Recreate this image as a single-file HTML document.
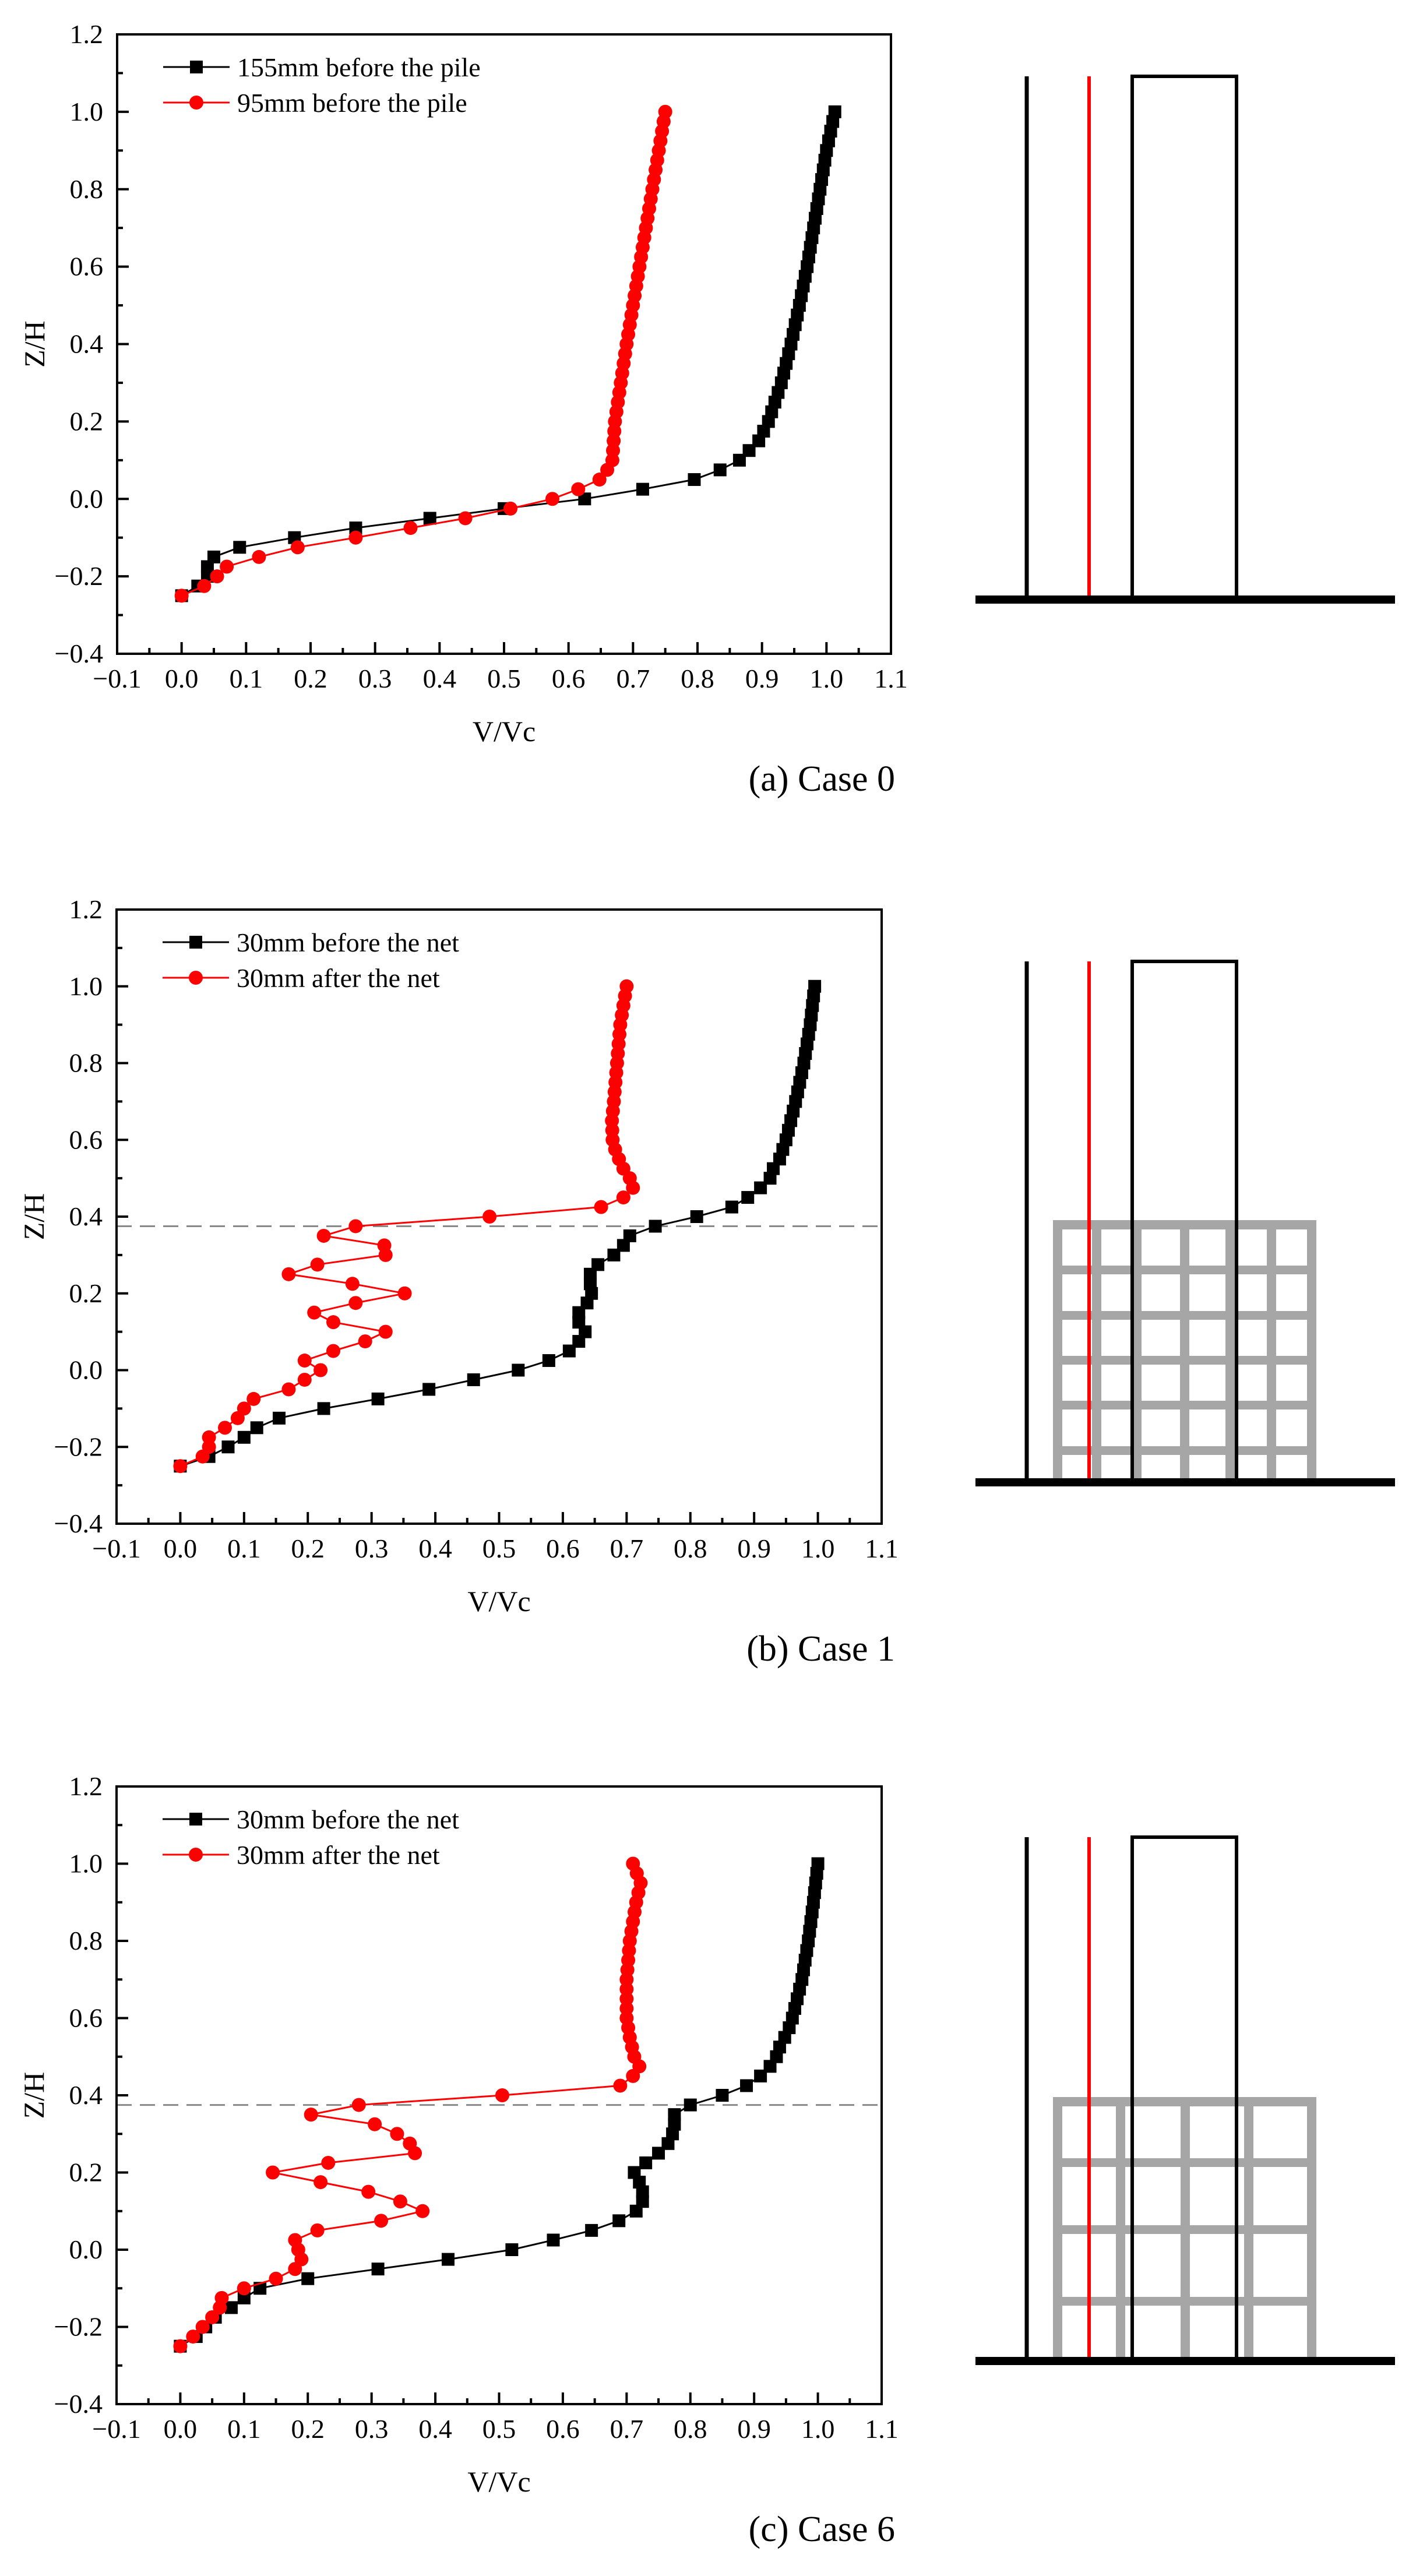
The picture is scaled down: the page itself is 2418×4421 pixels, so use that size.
<!DOCTYPE html>
<html><head><meta charset="utf-8">
<style>
html,body{margin:0;padding:0;background:#fff;}
svg{display:block;}
text{font-family:"Liberation Serif",serif;fill:#000;}
</style></head>
<body>
<svg id="s" xmlns="http://www.w3.org/2000/svg" width="2418" height="4421" viewBox="0 0 2418 4421">
<rect width="2418" height="4421" fill="#fff"/>
</svg>
<script>
const NS="http://www.w3.org/2000/svg";
const S=document.getElementById('s');
function el(t,a,p){const e=document.createElementNS(NS,t);for(const k in a)e.setAttribute(k,a[k]);(p||S).appendChild(e);return e;}
function tx(x,y,s,a){const e=el('text',Object.assign({x:x,y:y},a||{}));e.textContent=s;return e;}

function dens(a){const o=[];for(let i=0;i<a.length;i++){if(i>0){const p=a[i-1],q=a[i];const dz=q[1]-p[1];const n=Math.round(dz/0.025);if(n>1){for(let k=1;k<n;k++){const t=k/n;o.push([p[0]+(q[0]-p[0])*t,p[1]+dz*t]);}}}o.push(a[i]);}return o;}

function panel(P){
  const X=v=>P.l+(v+0.1)/1.2*(P.r-P.l);
  const Y=z=>P.t+(1.2-z)/1.6*(P.b-P.t);
  // dashed
  if(P.dash) el('line',{x1:P.l,x2:P.r,y1:Y(0.375),y2:Y(0.375),stroke:'#888','stroke-width':3,'stroke-dasharray':'26,14'});
  // ticks
  for(let i=0;i<=24;i++){const v=-0.1+i*0.05;const x=X(v);const L=(i%2==0)?20:10;
    el('line',{x1:x,x2:x,y1:P.b,y2:P.b-L,stroke:'#000','stroke-width':4});
    if(i%2==0){const lab=(Math.abs(v)<1e-9?'0.0':(v<0?'\u22120.1':v.toFixed(1)));tx(x,P.b+58,lab,{'font-size':46,'text-anchor':'middle'});}}
  for(let i=0;i<=16;i++){const z=-0.4+i*0.1;const y=Y(z);const L=(i%2==0)?20:10;
    el('line',{x1:P.l,x2:P.l+L,y1:y,y2:y,stroke:'#000','stroke-width':4});
    if(i%2==0){const lab=(Math.abs(z)<1e-9?'0.0':(z<0?'\u2212'+Math.abs(z).toFixed(1):z.toFixed(1)));tx(P.l-24,y+15,lab,{'font-size':46,'text-anchor':'end'});}}
  el('rect',{x:P.l,y:P.t,width:P.r-P.l,height:P.b-P.t,fill:'none',stroke:'#000','stroke-width':4});
  // axis titles
  tx(X(0.5),P.b+150,'V/Vc',{'font-size':50,'text-anchor':'middle'});
  const zt=tx(0,0,'Z/H',{'font-size':50,'text-anchor':'middle',transform:'translate('+(P.l-125)+','+Y(0.4)+') rotate(-90)'});
  // series
  function ser(d,col,m){const pts=dens(d);
    el('polyline',{points:pts.map(p=>X(p[0]).toFixed(1)+','+Y(p[1]).toFixed(1)).join(' '),fill:'none',stroke:col,'stroke-width':3});
    for(const p of pts){if(m=='s')el('rect',{x:X(p[0])-11,y:Y(p[1])-11,width:22,height:22,fill:col});else el('circle',{cx:X(p[0]),cy:Y(p[1]),r:12,fill:col});}}
  ser(P.k,'#000','s');ser(P.rd,'#f00','c');
  // legend
  const ly1=P.t+56,ly2=P.t+117;
  el('line',{x1:P.l+79,x2:P.l+193,y1:ly1,y2:ly1,stroke:'#000','stroke-width':3});
  el('rect',{x:P.l+125,y:ly1-11,width:22,height:22,fill:'#000'});
  el('line',{x1:P.l+79,x2:P.l+193,y1:ly2,y2:ly2,stroke:'#f00','stroke-width':3});
  el('circle',{cx:P.l+136,cy:ly2,r:12,fill:'#f00'});
  tx(P.l+206,ly1+16,P.n1,{'font-size':46});
  tx(P.l+206,ly2+16,P.n2,{'font-size':46});
  tx(1536,P.b+235,P.cap,{'font-size':62,'text-anchor':'end'});
}

const A={l:201,r:1529,t:59,b:1122,dash:false,n1:'155mm before the pile',n2:'95mm before the pile',cap:'(a) Case 0',
k:[[0,-0.25],[0.025,-0.225],[0.04,-0.2],[0.04,-0.175],[0.05,-0.15],[0.09,-0.125],[0.175,-0.1],[0.27,-0.075],[0.385,-0.05],[0.5,-0.025],[0.625,0],[0.715,0.025],[0.795,0.05],[0.835,0.075],[0.865,0.1],[0.88,0.125],[0.895,0.15],[0.91,0.2],[0.93,0.3],[0.945,0.4],[0.958,0.5],[0.97,0.6],[0.98,0.7],[0.99,0.8],[1.0,0.9],[1.013,1.0]],
rd:[[0,-0.25],[0.035,-0.225],[0.055,-0.2],[0.07,-0.175],[0.12,-0.15],[0.18,-0.125],[0.27,-0.1],[0.355,-0.075],[0.44,-0.05],[0.51,-0.025],[0.575,0],[0.615,0.025],[0.648,0.05],[0.66,0.075],[0.668,0.1],[0.672,0.2],[0.69,0.4],[0.71,0.6],[0.73,0.8],[0.75,1.0]]};
const B={l:200,r:1513,t:1561,b:2615,dash:true,n1:'30mm before the net',n2:'30mm after the net',cap:'(b) Case 1',
k:[[0,-0.25],[0.045,-0.225],[0.075,-0.2],[0.1,-0.175],[0.12,-0.15],[0.155,-0.125],[0.225,-0.1],[0.31,-0.075],[0.39,-0.05],[0.46,-0.025],[0.53,0],[0.578,0.025],[0.61,0.05],[0.625,0.075],[0.635,0.1],[0.625,0.125],[0.625,0.15],[0.638,0.175],[0.645,0.2],[0.643,0.225],[0.643,0.25],[0.655,0.275],[0.68,0.3],[0.695,0.325],[0.705,0.35],[0.745,0.375],[0.81,0.4],[0.865,0.425],[0.89,0.45],[0.91,0.475],[0.925,0.5],[0.93,0.525],[0.94,0.55],[0.945,0.575],[0.95,0.6],[0.965,0.7],[0.978,0.8],[0.988,0.9],[0.995,1.0]],
rd:[[0,-0.25],[0.035,-0.225],[0.045,-0.2],[0.045,-0.175],[0.07,-0.15],[0.09,-0.125],[0.1,-0.1],[0.115,-0.075],[0.17,-0.05],[0.195,-0.025],[0.22,0],[0.195,0.025],[0.24,0.05],[0.29,0.075],[0.322,0.1],[0.24,0.125],[0.21,0.15],[0.275,0.175],[0.352,0.2],[0.27,0.225],[0.17,0.25],[0.215,0.275],[0.322,0.3],[0.32,0.325],[0.225,0.35],[0.275,0.375],[0.485,0.4],[0.66,0.425],[0.695,0.45],[0.71,0.475],[0.705,0.5],[0.695,0.525],[0.688,0.55],[0.682,0.575],[0.678,0.6],[0.677,0.65],[0.68,0.7],[0.685,0.8],[0.69,0.9],[0.7,1.0]]};
const C={l:200,r:1513,t:3066,b:4126,dash:true,n1:'30mm before the net',n2:'30mm after the net',cap:'(c) Case 6',
k:[[0,-0.25],[0.025,-0.225],[0.04,-0.2],[0.055,-0.175],[0.08,-0.15],[0.1,-0.125],[0.125,-0.1],[0.2,-0.075],[0.31,-0.05],[0.42,-0.025],[0.52,0],[0.585,0.025],[0.645,0.05],[0.688,0.075],[0.715,0.1],[0.725,0.125],[0.725,0.15],[0.72,0.175],[0.712,0.2],[0.73,0.225],[0.75,0.25],[0.765,0.275],[0.772,0.3],[0.775,0.325],[0.775,0.35],[0.8,0.375],[0.85,0.4],[0.888,0.425],[0.91,0.45],[0.925,0.475],[0.935,0.5],[0.94,0.525],[0.948,0.55],[0.955,0.575],[0.96,0.6],[0.975,0.7],[0.985,0.8],[0.993,0.9],[1.0,1.0]],
rd:[[0,-0.25],[0.02,-0.225],[0.035,-0.2],[0.05,-0.175],[0.062,-0.15],[0.065,-0.125],[0.1,-0.1],[0.15,-0.075],[0.18,-0.05],[0.19,-0.025],[0.185,0],[0.18,0.025],[0.215,0.05],[0.315,0.075],[0.38,0.1],[0.345,0.125],[0.295,0.15],[0.22,0.175],[0.145,0.2],[0.232,0.225],[0.368,0.25],[0.36,0.275],[0.34,0.3],[0.305,0.325],[0.205,0.35],[0.28,0.375],[0.505,0.4],[0.69,0.425],[0.71,0.45],[0.72,0.475],[0.712,0.5],[0.705,0.55],[0.7,0.6],[0.7,0.7],[0.705,0.8],[0.715,0.9],[0.722,0.95],[0.71,1.0]]};
[A,B,C].forEach(panel);

// diagrams
function diag(top,ground,grid){
  if(grid){
    const g='#a6a6a6';
    el('rect',{x:1807,y:grid.top,width:2259-1807,height:16,fill:g});
    for(const x of grid.vx) el('rect',{x:x,y:grid.top,width:16,height:ground-grid.top,fill:g});
    for(const y of grid.hy) el('rect',{x:1807,y:y,width:2259-1807,height:15,fill:g});
  }
  el('line',{x1:1762,x2:1762,y1:top,y2:ground,stroke:'#000','stroke-width':7});
  el('line',{x1:1869,x2:1869,y1:top,y2:ground,stroke:'#f00','stroke-width':6});
  el('polyline',{points:'1943,'+ground+' 1943,'+top+' 2122,'+top+' 2122,'+ground,fill:'none',stroke:'#000','stroke-width':6});
  el('rect',{x:1674,y:ground-7,width:720,height:14,fill:'#000'});
}
diag(131,1029,null);
diag(1650,2544,{top:2094,vx:[1807,1874,1943,2025,2103,2174,2243],hy:[2172,2250,2327,2404,2482]});
diag(3153,4052,{top:3599,vx:[1807,1915,2026,2135,2243],hy:[3704,3819,3942]});
</script>
</body></html>
